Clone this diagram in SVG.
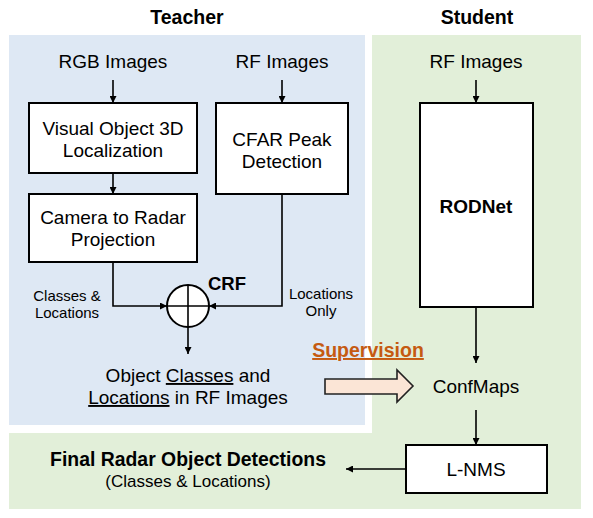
<svg xmlns="http://www.w3.org/2000/svg" width="593" height="518" viewBox="0 0 593 518">
<defs>
<style>
text{font-family:"Liberation Sans",Arial,sans-serif;fill:#000;text-anchor:middle}
.t{font-size:19px}
.s{font-size:15px}
.b{font-weight:bold}
.box{fill:#fff;stroke:#000;stroke-width:2}
.ln{fill:none;stroke:#000;stroke-width:1.6}
</style>
<marker id="ah" viewBox="0 0 10 10" refX="10" refY="5" markerWidth="7" markerHeight="7" markerUnits="userSpaceOnUse" orient="auto"><path d="M0,0 L10,5 L0,10 Z" fill="#000"/></marker>
</defs>
<rect width="593" height="518" fill="#fff"/>
<g id="panels">
<rect x="372" y="35" width="209" height="474" fill="#e2efd9"/>
<rect x="9" y="433" width="572" height="76" fill="#e2efd9"/>
<rect x="9" y="35" width="356" height="390" fill="#dee8f4"/>
</g>
<text class="b" x="187" y="24" font-size="19.5">Teacher</text>
<text class="b" x="477" y="24" font-size="19.5">Student</text>
<g id="connectors">
<line class="ln" x1="113" y1="80" x2="113" y2="103" marker-end="url(#ah)"/>
<line class="ln" x1="282" y1="80" x2="282" y2="103" marker-end="url(#ah)"/>
<line class="ln" x1="113" y1="173" x2="113" y2="194" marker-end="url(#ah)"/>
<polyline class="ln" points="113,262 113,306 167,306" marker-end="url(#ah)"/>
<polyline class="ln" points="282,194 282,306 209,306" marker-end="url(#ah)"/>
<line class="ln" x1="188" y1="327" x2="188" y2="354" marker-end="url(#ah)"/>
<line class="ln" x1="476" y1="80" x2="476" y2="103" marker-end="url(#ah)"/>
<line class="ln" x1="476" y1="307" x2="476" y2="363" marker-end="url(#ah)"/>
<line class="ln" x1="476" y1="410" x2="476" y2="445" marker-end="url(#ah)"/>
<line class="ln" x1="406" y1="469" x2="346" y2="469" marker-end="url(#ah)"/>
<path id="supervision-arrow" d="M325,379 L397,379 L397,370 L413,386 L397,402 L397,394 L325,394 Z" fill="#fbe5d6" stroke="#222" stroke-width="1.6"/>
</g>
<g id="rgb-images"><text class="t" x="113" y="68">RGB Images</text></g>
<g id="rf-images-teacher"><text class="t" x="282" y="68">RF Images</text></g>
<g id="visual-3d">
<rect class="box" x="29" y="103" width="168" height="70"/>
<text class="t" x="113" y="135">Visual Object 3D</text>
<text class="t" x="113" y="157">Localization</text>
</g>
<g id="cam-radar">
<rect class="box" x="29" y="194" width="168" height="68"/>
<text class="t" x="113" y="224">Camera to Radar</text>
<text class="t" x="113" y="246">Projection</text>
</g>
<g id="cfar">
<rect class="box" x="216" y="103" width="132" height="91"/>
<text class="t" x="282" y="146">CFAR Peak</text>
<text class="t" x="282" y="168">Detection</text>
</g>
<g id="crf">
<circle cx="188" cy="306" r="21" fill="#fff" stroke="#000" stroke-width="2"/>
<line class="ln" x1="188" y1="285" x2="188" y2="327"/>
<line class="ln" x1="167" y1="306" x2="209" y2="306"/>
<text class="b" x="227" y="290" font-size="18.5">CRF</text>
</g>
<g id="label-classes-locations">
<text class="s" x="67" y="301">Classes &amp;</text>
<text class="s" x="67" y="318">Locations</text>
</g>
<g id="label-locations-only">
<text class="s" x="321" y="299">Locations</text>
<text class="s" x="321" y="316">Only</text>
</g>
<g id="object-output">
<text class="t" x="188" y="382">Object <tspan text-decoration="underline">Classes</tspan> and</text>
<text class="t" x="188" y="404"><tspan text-decoration="underline">Locations</tspan> in RF Images</text>
</g>
<g id="supervision"><text class="b" x="368" y="357" font-size="19.5" style="fill:#c55a11" text-decoration="underline">Supervision</text></g>
<g id="rf-images-student"><text class="t" x="476" y="68">RF Images</text></g>
<g id="rodnet">
<rect class="box" x="420" y="103" width="113" height="204"/>
<text class="b" x="476" y="213" font-size="19">RODNet</text>
</g>
<g id="confmaps"><text class="t" x="476" y="393">ConfMaps</text></g>
<g id="lnms">
<rect class="box" x="406" y="445" width="141" height="48"/>
<text class="t" x="476" y="476">L-NMS</text>
</g>
<g id="final">
<text class="b" x="188" y="466" font-size="19.4">Final Radar Object Detections</text>
<text x="188" y="487" font-size="17">(Classes &amp; Locations)</text>
</g>
</svg>
